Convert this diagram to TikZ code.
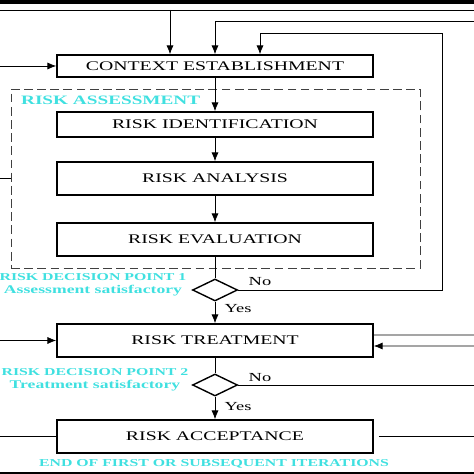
\documentclass[tikz,border=0pt]{standalone}
\usepackage{fontspec}
\setmainfont{Liberation Serif}[FakeStretch=1.5]
\usepackage{tikz}
\usetikzlibrary{positioning,arrows.meta,shapes.geometric}
\definecolor{riskcyan}{RGB}{64,224,224}
\newcommand{\lowline}{\fontsize{6.7}{7.6}\selectfont}

\begin{document}
\begin{tikzpicture}[scale=1,
  stepbox/.style={rectangle,draw,line width=0.9pt,minimum width=6.32cm,font=\fontsize{7.5}{9}\selectfont},
  decide/.style={diamond,draw,line width=0.8pt,minimum width=0.9cm,minimum height=0.44cm,inner sep=0pt,aspect=2},
  note/.style={text=riskcyan,font=\bfseries\fontsize{6}{7.6}\selectfont,align=center,inner sep=1pt},
  small/.style={font=\fontsize{7}{8}\selectfont},
  >={Latex[length=5pt,width=4pt]}]
\useasboundingbox (0,0) rectangle (9.48,9.48);
% frame bars
\fill (0,9.39) rectangle (9.48,9.48);
\fill (0,0) rectangle (9.48,0.04);

% main steps
\node[stepbox,minimum height=0.44cm] (ctx) at (4.30,8.16) {CONTEXT ESTABLISHMENT};
\node[draw=black!75,dash pattern=on 5pt off 2.5pt,line width=0.5pt,minimum width=8.18cm,minimum height=3.58cm] (assess) at (4.31,5.91) {};
\node[note,anchor=west,font=\bfseries\fontsize{7.3}{8}\selectfont] (asslabel) at (0.38,7.48) {RISK ASSESSMENT};
\node[stepbox,minimum height=0.5cm] (ident) at (4.30,6.99) {RISK IDENTIFICATION};
\node[stepbox,minimum height=0.66cm] (anal) at (4.30,5.91) {RISK ANALYSIS};
\node[stepbox,minimum height=0.66cm] (eval) at (4.30,4.69) {RISK EVALUATION};
\node[decide] (d1) at (4.30,3.68) {};
\node[stepbox,minimum height=0.66cm] (treat) at (4.30,2.67) {RISK TREATMENT};
\node[decide] (d2) at (4.30,1.78) {};
\node[stepbox,minimum height=0.66cm] (accept) at (4.30,0.75) {RISK ACCEPTANCE};

% decision notes
\node[note] (dp1) at (1.86,3.79) {RISK DECISION POINT 1\\{\lowline Assessment satisfactory}};
\node[note] (dp2) at (1.90,1.89) {RISK DECISION POINT 2\\{\lowline Treatment satisfactory}};
\node[note] (iter) at (4.28,0.2) {END OF FIRST OR SUBSEQUENT ITERATIONS};

% free ends
\coordinate (topL) at (0,9.28);
\coordinate (topR) at (9.48,9.28);
\coordinate (in1) at (3.40,9.28);
\coordinate (in2) at (9.48,9.06);
\coordinate (fb1) at (8.84,8.82);
\coordinate (lctx) at (0,8.16);
\coordinate (lass) at (0,5.91);
\coordinate (ltr) at (0,2.67);
\coordinate (rtrout) at (9.48,2.78);
\coordinate (rtrin) at (9.48,2.56);
\coordinate (rd2) at (9.48,1.78);
\coordinate (lacc) at (0,0.75);
\coordinate (racc) at (9.48,0.75);

% connectors
\draw (topL) -- (topR);
\draw[->] (in1) -- (in1 |- ctx.north);
\draw[->] (in2) -| (ctx.north);
\draw[->] (d1.east) -| (fb1) -| ([xshift=0.9cm]ctx.north);
\draw[->] (lctx) -- (ctx.west);
\draw[->] (ctx) -- (ident);
\draw[->] (ident) -- (anal);
\draw[->] (anal) -- (eval);
\draw (eval) -- (d1);
\draw (lass) -- (assess.west);
\draw[->] (d1) -- (treat);
\draw (treat) -- (d2);
\draw[->] (d2) -- (accept);
\draw[->] (ltr) -- (treat.west);
\draw ([yshift=0.11cm]treat.east) -- (rtrout);
\draw[->] (rtrin) -- ([yshift=-0.11cm]treat.east);
\draw (d2.east) -- (rd2);
\draw (lacc) -- (accept.west);
\draw ([xshift=0.1cm]accept.east) -- (racc);

% branch labels
\node[small] (no1) at (5.20,3.84) {No};
\node[small] (yes1) at (4.76,3.30) {Yes};
\node[small] (no2) at (5.20,1.93) {No};
\node[small] (yes2) at (4.76,1.34) {Yes};
\end{tikzpicture}
\end{document}
